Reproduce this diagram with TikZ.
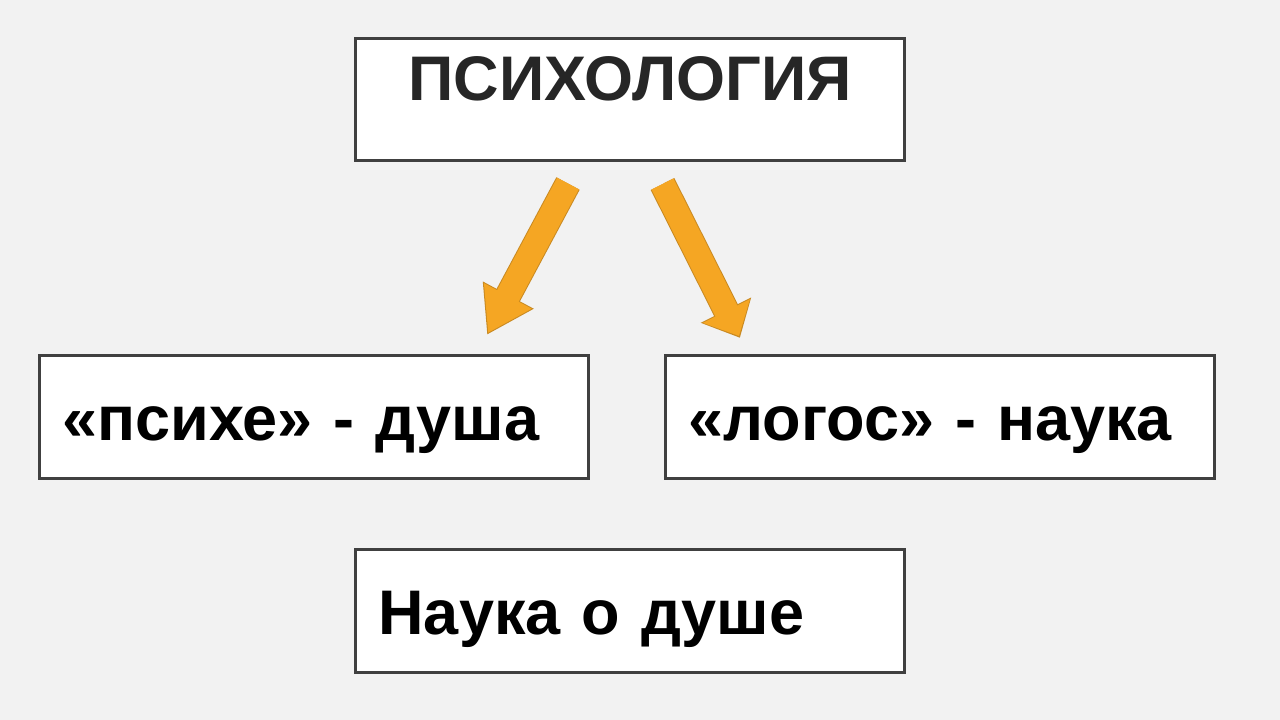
\documentclass[tikz,border=0pt]{standalone}
\usepackage{fontspec}
\setmainfont{Liberation Sans}
\usepackage{tikz}
\usetikzlibrary{arrows.meta}
\definecolor{pagegray}{HTML}{F2F2F2}
\definecolor{framegray}{HTML}{404040}
\definecolor{titlegray}{HTML}{262626}
\definecolor{arroworange}{HTML}{F5A623}
\definecolor{arrowedge}{HTML}{C98A22}
\tikzset{
  wordbox/.style={
    draw=framegray, line width=3pt, fill=white,
    inner xsep=23pt, inner ysep=0pt, text width=503pt,
    font=\fontsize{63}{70}\selectfont\bfseries
  },
  bigarrow/.style 2 args={
    draw=arroworange, line width=24.5pt,
    -{Triangle[length=#1,width=51pt]},
    preaction={draw=arrowedge, line width=26.5pt, shorten >=-2pt,
      -{Triangle[length=#2,width=54.5pt]}}
  }
}

\begin{document}
\begin{tikzpicture}[x=1pt,y=-1pt]
\useasboundingbox[fill=pagegray] (0,0) rectangle (1280,720);
\node (psy) at (630,99.5) [wordbox, align=center, text height=61.5pt, text depth=60.5pt, text=titlegray]{ПСИХОЛОГИЯ};
\node (psyhe) at (314,417) [wordbox, align=left, text height=84.5pt, text depth=38.5pt]{«психе» - душа};
\node (logos) at (940,417) [wordbox, align=left, text height=84.5pt, text depth=38.5pt]{«логос» - наука};
\node (soul) at (630,611) [wordbox, align=left, text height=84.5pt, text depth=38.5pt]{Наука о душе};
\coordinate (psyheTail) at (568,183.5);
\coordinate (psyheTip) at (488,333);
\coordinate (logosTail) at (662.5,184);
\coordinate (logosTip) at (739,336);
\draw[bigarrow={42pt}{45pt}] (psyheTail) -- (psyheTip);
\draw[bigarrow={28pt}{31pt}] (logosTail) -- (logosTip);
\end{tikzpicture}
\end{document}
